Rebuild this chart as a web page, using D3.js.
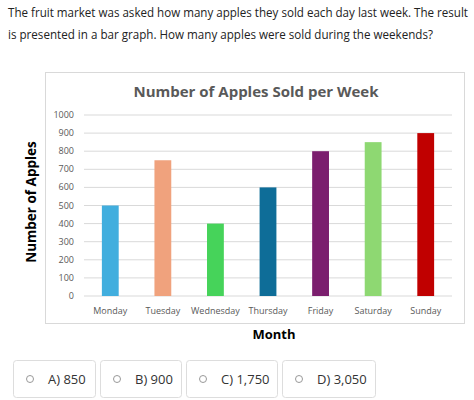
<!DOCTYPE html><html><head><meta charset="utf-8">
<script src="https://cdn.jsdelivr.net/npm/d3@7"></script>
<style>body{margin:0;background:#fff;font-family:"Open Sans",sans-serif}</style></head><body>
<svg id="c" width="474" height="400"></svg>
<script>
const days=["Monday","Tuesday","Wednesday","Thursday","Friday","Saturday","Sunday"];
const apples=[500,750,400,600,800,850,900];
const colors=["#41aede","#f0a27d","#46d35a","#0e6d98","#7b1e6e","#8ed872","#c00000"];
const yTicks=[0,100,200,300,400,500,600,700,800,900,1000];
const options=["A) 850","B) 900","C) 1,750","D) 3,050"];
const svg=d3.select("#c");
svg.append("text").attr("x",8).attr("y",17).attr("font-size",13).attr("fill","#222").attr("textLength",460).attr("lengthAdjust","spacingAndGlyphs").text("The fruit market was asked how many apples they sold each day last week. The result");
svg.append("text").attr("x",8).attr("y",39).attr("font-size",13).attr("fill","#222").attr("textLength",425).attr("lengthAdjust","spacingAndGlyphs").text("is presented in a bar graph. How many apples were sold during the weekends?");
svg.append("rect").attr("x",45.5).attr("y",72.5).attr("width",419).attr("height",251).attr("fill","#fff").attr("stroke","#d9d9d9");
svg.append("text").attr("x",256).attr("y",97).attr("text-anchor","middle").attr("font-size",15).attr("font-weight","bold").attr("fill","#595959").text("Number of Apples Sold per Week");
const x=d3.scaleBand().domain(days).range([84,452]).paddingInner(0.68).paddingOuter(0.34);
const y=d3.scaleLinear().domain([0,1000]).range([296,115]);
const g=svg.append("g");
g.selectAll("line.g").data(yTicks).join("line").attr("x1",84).attr("x2",452).attr("y1",d=>y(d)).attr("y2",d=>y(d)).attr("stroke","#d9d9d9");
g.selectAll("text.y").data(yTicks).join("text").attr("x",74).attr("y",d=>y(d)+3).attr("text-anchor","end").attr("font-size",9).attr("fill","#595959").text(d=>d);
g.selectAll("rect.b").data(days).join("rect").attr("x",d=>x(d)).attr("width",x.bandwidth()).attr("y",(d,i)=>y(apples[i])).attr("height",(d,i)=>y(0)-y(apples[i])).attr("fill",(d,i)=>colors[i]);
g.selectAll("text.x").data(days).join("text").attr("x",d=>x(d)+x.bandwidth()/2).attr("y",314).attr("text-anchor","middle").attr("font-size",9).attr("fill","#595959").text(d=>d);
svg.append("text").attr("x",274).attr("y",339).attr("text-anchor","middle").attr("font-size",13).attr("font-weight","bold").attr("fill","#000").text("Month");
svg.append("text").attr("transform","translate(36,202) rotate(-90)").attr("text-anchor","middle").attr("font-size",13.5).attr("font-weight","bold").attr("fill","#000").text("Number of Apples");
const boxes=[[13,82],[100,81],[186,91],[282,93]];
options.forEach((o,i)=>{const [bx,bw]=boxes[i];
svg.append("rect").attr("x",bx+.5).attr("y",360.5).attr("width",bw).attr("height",37).attr("rx",3).attr("fill","#fff").attr("stroke","#ddd");
svg.append("circle").attr("cx",bx+17).attr("cy",379).attr("r",3.5).attr("fill","#fff").attr("stroke","#999");
svg.append("text").attr("x",bx+35).attr("y",384).attr("font-size",13).attr("fill","#333").text(o);});
</script></body></html>
